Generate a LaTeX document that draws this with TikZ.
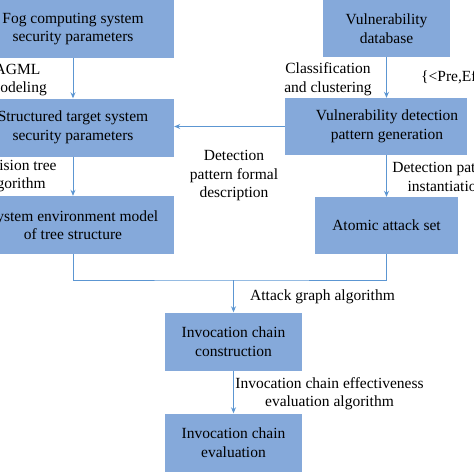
\documentclass[tikz,border=0pt]{standalone}
\usepackage{fontspec}
\setmainfont{Liberation Serif}
\usetikzlibrary{arrows.meta,positioning}
\definecolor{boxblue}{RGB}{133,169,218}
\definecolor{lineblue}{RGB}{92,150,210}
\tikzset{block/.style={
        fill=boxblue,
        minimum height=58pt,
        align=center,
        inner sep=0pt,
    },
    flow/.style={
        draw=lineblue,
        line width=0.9pt,
    },
    lbl/.style={align=center, inner sep=0pt},
}

\begin{document}
\begin{tikzpicture}[x=1pt,y=-1pt,font=\fontsize{15.5}{18.5}\selectfont,
    >={Stealth[length=6pt,width=5pt]}]
  \useasboundingbox (0,0) rectangle (474,474);
  \node[block, minimum width=202pt] (fog)    at (73,29)    {Fog computing system\\security parameters};
  \node[block, minimum width=202pt] (struct) at (73,127.5) {Structured target system\\security parameters};
  \node[block, minimum width=202pt] (sysenv) at (73,225)   {System environment model\\of tree structure};
  \node[block, minimum width=127pt, minimum height=57pt] (vdb) at (386.5,28.5) {Vulnerability\\database};
  \node[block, minimum width=182pt, minimum height=57pt] (vdpg) at (376,126.5) {};
  \node[lbl] (vdpgtext) at (387,126.5) {Vulnerability detection\\pattern generation};
  \node[block, minimum width=143pt, minimum height=57pt] (atomic) at (386.5,225.5) {Atomic attack set};
  \node[block, minimum width=137pt] (construct) at (233.5,341.5) {Invocation chain\\construction};
  \node[block, minimum width=137pt] (evaluate)  at (233.5,442.5) {Invocation chain\\evaluation};
  \coordinate (join) at (233.5,280);
  % labels
  \node[lbl] (agml)     at (17.5,80)  {AGML\\modeling};
  \node[lbl] (dtree)    at (15.5,176) {Decision tree\\algorithm};
  \node[lbl] (classify) at (328,79)   {Classification\\and clustering};
  \node[lbl, anchor=west] (preeff) at (421,77) {\{<Pre,Eff>\}};
  \node[lbl] (formal)   at (234,176)  {Detection\\pattern formal\\description};
  \node[lbl] (instant)  at (446,177)  {Detection pattern\\instantiation};
  \node[lbl, anchor=west] (agraph) at (250,297) {Attack graph algorithm};
  \node[lbl] (effect)   at (329.5,393.5) {Invocation chain effectiveness\\evaluation algorithm};
  % connectors
  \draw[flow,->] (fog) -- (struct);
  \draw[flow,->] (struct) -- (sysenv);
  \draw[flow,->] (vdb.south) -- (vdb.south |- vdpg.north);
  \draw[flow,->] (vdpg.west) -- (vdpg.west -| struct.east);
  \draw[flow,->] (atomic.north |- vdpg.south) -- (atomic.north);
  \draw[flow] (sysenv.south) |- (join) -| (atomic.south);
  \draw[flow,->] (join) -- (construct);
  \draw[flow,->] (construct) -- (evaluate);
\end{tikzpicture}
\end{document}
